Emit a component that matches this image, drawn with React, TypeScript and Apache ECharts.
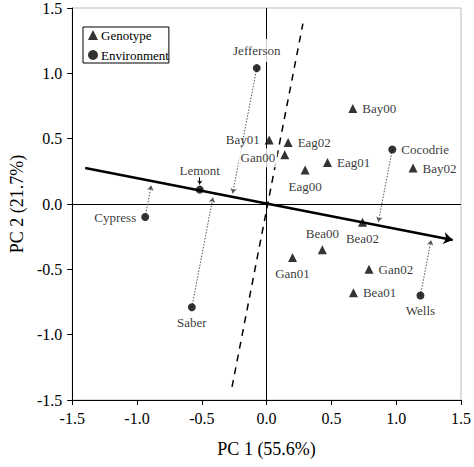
import React, { useEffect, useRef } from 'react';
import * as echarts from 'echarts';

const genotypeNames = ['Bay00', 'Bay01', 'Eag02', 'Gan00', 'Eag01', 'Eag00', 'Bay02', 'Bea02', 'Bea00', 'Gan01', 'Gan02', 'Bea01'];
const genotypePC1 = [0.665, 0.02, 0.166, 0.14, 0.47, 0.297, 1.13, 0.74, 0.43, 0.2, 0.79, 0.67];
const genotypePC2 = [0.73, 0.49, 0.47, 0.376, 0.318, 0.26, 0.275, -0.14, -0.35, -0.41, -0.5, -0.68];
const genotypeLabelPos = ['right', 'left', 'right', 'left', 'right', 'bottom', 'right', 'bottom', 'top', 'bottom', 'right', 'right'];

const envNames = ['Jefferson', 'Cocodrie', 'Lemont', 'Cypress', 'Wells', 'Saber'];
const envPC1 = [-0.076, 0.97, -0.516, -0.937, 1.187, -0.577];
const envPC2 = [1.04, 0.417, 0.11, -0.1, -0.7, -0.79];
const envLabelPos = ['top', 'right', 'top', 'left', 'bottom', 'bottom'];
const envProjected = [true, true, false, true, true, true];

const axisLineStart = [-1.4, 0.275];
const axisLineEnd = [1.436, -0.275];
const dashedStart = [-0.267, -1.4];
const dashedEnd = [0.28, 1.38];
const lemontArrow = [[-0.516, 0.205], [-0.516, 0.15]];

const axisMin = -1.5;
const axisMax = 1.5;
const axisStep = 0.5;

const FONT = 'Liberation Serif';

export default function App() {
  const ref = useRef<HTMLDivElement>(null);
  useEffect(() => {
    if (!ref.current) return;
    const chart = echarts.init(ref.current, undefined, { renderer: 'svg' });

    const dx = axisLineEnd[0] - axisLineStart[0];
    const dy = axisLineEnd[1] - axisLineStart[1];
    const projLines: any[] = [];
    envNames.forEach((n, i) => {
      if (!envProjected[i]) return;
      const px = envPC1[i];
      const py = envPC2[i];
      const t = (px * dx + py * dy) / (dx * dx + dy * dy);
      const qx = t * dx;
      const qy = t * dy;
      const dist = Math.hypot(qx - px, qy - py);
      const f = 1 - 0.03 / dist;
      projLines.push({ coords: [[px, py], [px + (qx - px) * f, py + (qy - py) * f]] });
    });

    const baseLabel = () => ({
      show: true,
      color: '#000',
      fontFamily: FONT,
      fontSize: 13,
    });

    const genoData = genotypeNames.map((n, i) => {
      const lab: any = { ...baseLabel(), position: genotypeLabelPos[i] };
      if (n === 'Gan00') {
        lab.backgroundColor = '#fff';
        lab.padding = [3, 2, 3, 2];
        lab.offset = [0, 3];
        lab.distance = 3;
      }
      return { name: n, value: [genotypePC1[i], genotypePC2[i]], label: lab };
    });
    const envData = envNames.map((n, i) => {
      const lab: any = { ...baseLabel(), position: envLabelPos[i] };
      if (n === 'Jefferson') {
        lab.backgroundColor = '#fff';
        lab.padding = [5, 2, 5, 2];
        lab.distance = 2;
      }
      if (n === 'Lemont') {
        lab.distance = 9;
      }
      return { name: n, value: [envPC1[i], envPC2[i]], label: lab };
    });

    chart.setOption({
      animation: false,
      backgroundColor: '#fff',
      grid: {
        left: 66,
        right: 11,
        top: 8,
        bottom: 67,
        show: true,
        borderColor: '#bbb',
        borderWidth: 1,
      },
      legend: {
        left: 83,
        top: 27,
        orient: 'vertical',
        borderColor: '#000',
        borderWidth: 1,
        borderRadius: 0,
        padding: [1, 0, 1, 5],
        itemGap: 6,
        itemWidth: 10,
        itemHeight: 10,
        backgroundColor: '#fff',
        data: [
          { name: 'Genotype', icon: 'triangle' },
          { name: 'Environment', icon: 'circle' },
        ],
        textStyle: { fontFamily: FONT, fontSize: 13, color: '#000', padding: [0, 0, 0, -2], lineHeight: 14 },
      },
      xAxis: {
        type: 'value',
        min: axisMin,
        max: axisMax,
        interval: axisStep,
        name: 'PC 1 (55.6%)',
        nameLocation: 'middle',
        nameGap: 40,
        nameTextStyle: { fontFamily: FONT, fontSize: 18, color: '#000' },
        axisLine: { onZero: false, lineStyle: { color: '#000', width: 1 } },
        axisTick: { show: true, inside: false, length: 5, lineStyle: { color: '#000' } },
        axisLabel: { formatter: (v: number) => v.toFixed(1), fontFamily: FONT, fontSize: 16, color: '#000', margin: 10 },
        splitLine: { show: false },
      },
      yAxis: {
        type: 'value',
        min: axisMin,
        max: axisMax,
        interval: axisStep,
        name: 'PC 2 (21.7%)',
        nameLocation: 'middle',
        nameGap: 44,
        nameTextStyle: { fontFamily: FONT, fontSize: 18, color: '#000' },
        axisLine: { onZero: false, lineStyle: { color: '#000', width: 1 } },
        axisTick: { show: true, inside: false, length: 5, lineStyle: { color: '#000' } },
        axisLabel: { formatter: (v: number) => v.toFixed(1), fontFamily: FONT, fontSize: 16, color: '#000', margin: 10 },
        splitLine: { show: false },
      },
      series: [
        {
          type: 'lines',
          coordinateSystem: 'cartesian2d',
          z: 1,
          silent: true,
          symbol: ['none', 'none'],
          lineStyle: { color: '#000', width: 1, opacity: 1 },
          data: [
            { coords: [[axisMin, 0], [axisMax, 0]] },
            { coords: [[0, axisMin], [0, axisMax]] },
          ],
        },
        {
          type: 'lines',
          coordinateSystem: 'cartesian2d',
          z: 2,
          silent: true,
          symbol: ['none', 'none'],
          lineStyle: { color: '#000', width: 1.5, type: [7, 6], opacity: 1 },
          data: [{ coords: [dashedStart, dashedEnd] }],
        },
        {
          type: 'lines',
          coordinateSystem: 'cartesian2d',
          z: 3,
          silent: true,
          symbol: ['none', 'arrow'],
          symbolSize: 9,
          lineStyle: { color: '#000', width: 2.5, opacity: 1 },
          data: [{ coords: [axisLineStart, axisLineEnd] }],
        },
        {
          type: 'lines',
          coordinateSystem: 'cartesian2d',
          z: 3,
          silent: true,
          symbol: ['none', 'arrow'],
          symbolSize: 5,
          lineStyle: { color: '#555', width: 1, type: [1.5, 1.5], opacity: 1 },
          data: projLines,
        },
        {
          type: 'lines',
          coordinateSystem: 'cartesian2d',
          z: 3,
          silent: true,
          symbol: ['none', 'arrow'],
          symbolSize: 4,
          lineStyle: { color: '#000', width: 1, opacity: 1 },
          data: [{ coords: lemontArrow }],
        },
        {
          name: 'Genotype',
          type: 'scatter',
          z: 5,
          symbol: 'triangle',
          symbolSize: 9,
          itemStyle: { color: '#000' },
          label: { ...baseLabel(), formatter: '{b}' },
          data: genoData,
        },
        {
          name: 'Environment',
          type: 'scatter',
          z: 5,
          symbol: 'circle',
          symbolSize: 8,
          itemStyle: { color: '#000' },
          label: { ...baseLabel(), formatter: '{b}' },
          data: envData,
        },
      ],
    });
    return () => chart.dispose();
  }, []);
  return <div ref={ref} style={{ position: 'fixed', left: 0, top: 0, width: 474, height: 467 }} />;
}
